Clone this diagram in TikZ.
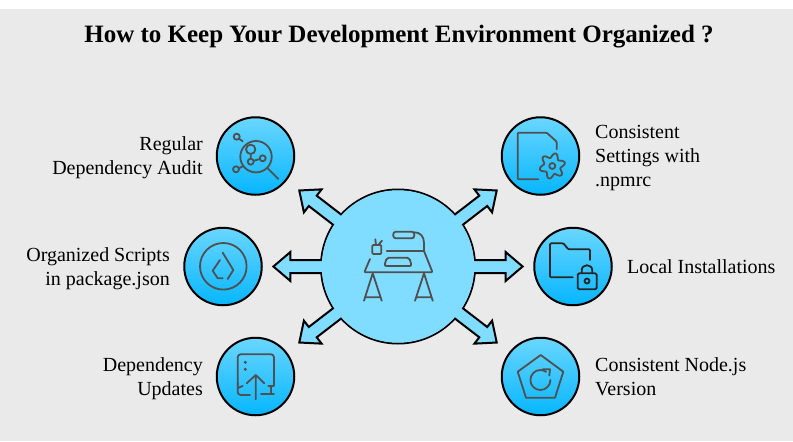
\documentclass[tikz,border=0pt]{standalone}
\usepackage{fontspec}
\setmainfont{Liberation Serif}
\usetikzlibrary{calc,positioning}

\definecolor{panelgray}{HTML}{EAEAEA}
\definecolor{hubblue}{HTML}{80DDFF}
\definecolor{topblue}{HTML}{6AD6FF}
\definecolor{lowblue}{HTML}{06B6FF}
\definecolor{icongray}{HTML}{505050}

\tikzset{
  hubfill/.style={circle, fill=hubblue, inner sep=0pt, minimum size=154pt},
  topicdisc/.style={circle, draw=black, line width=2pt, top color=topblue, bottom color=lowblue, inner sep=0pt, minimum size=77.5pt},
  blockarrow/.style={draw=black, line width=2pt, fill=hubblue, line join=miter},
  icon/.style={draw=icongray, line width=1.8pt, line cap=round, line join=round},
  leftlabel/.style={align=right, anchor=east, inner sep=0pt, font=\fontsize{20}{24}\selectfont},
  rightlabel/.style={align=left, anchor=west, inner sep=0pt, font=\fontsize{20}{24}\selectfont}
}

\begin{document}
\begin{tikzpicture}[x=1pt, y=-1pt]
  \useasboundingbox (0,0) rectangle (793,442);
  \fill[panelgray] (0,9) rectangle (793,441);

  \node[font=\fontsize{25}{28}\bfseries\selectfont] (title) at (399,37) {How to Keep Your Development Environment Organized ?};

  % Hub with its six arrows
  \node[hubfill, draw=black, line width=2pt] (hub) at (398,266.5) {};
  \foreach \ang in {0,180,37.6,-37.6,142.4,-142.4} {
    \begin{scope}[shift={(hub)}, rotate=\ang]
      \draw[blockarrow] (60,-6.5) -- (107.6,-6.5) -- (107.6,-14.5) -- (124.6,0)
        -- (107.6,14.5) -- (107.6,6.5) -- (60,6.5) -- cycle;
    \end{scope}
  }
  \node[hubfill, minimum size=152.5pt] (hubtop) at (hub) {};

  % Topic discs
  \node[topicdisc] (audit) at (255.5,156) {};
  \node[topicdisc] (scripts) at (223,266.5) {};
  \node[topicdisc] (updates) at (255.5,376.5) {};
  \node[topicdisc] (settings) at (540.5,156) {};
  \node[topicdisc] (local) at (573,266.5) {};
  \node[topicdisc] (version) at (540.5,376.5) {};

  % Labels
  \node[leftlabel] (auditlabel) at (203,158) {Regular\\Dependency Audit};
  \node[leftlabel] (scriptslabel) at (170,269) {Organized Scripts\\in package.json};
  \node[leftlabel] (updateslabel) at (203,379) {Dependency\\Updates};
  \node[rightlabel] (settingslabel) at (595,158) {Consistent\\Settings with\\.npmrc};
  \node[rightlabel] (locallabel) at (627,267) {Local Installations};
  \node[rightlabel] (versionlabel) at (595,377) {Consistent Node.js\\Version};

  % Desk icon
  \draw[icon, rounded corners=2.5pt] (393.3,231.7) rectangle (414.3,238.3);
  \draw[icon] (386.7,251) -- (424,251) -- (424,243) .. controls (424,236) and (420,232.3) .. (414.3,232.3);
  \draw[icon, rounded corners=1pt] (370,259) -- (364.3,272.3) -- (432.5,272.3) -- (424,251);
  \draw[icon, rounded corners=2pt] (386.7,257.7) -- (409.3,257.7) -- (411.7,266) -- (384.3,266) -- cycle;
  \draw[icon] (364,300.7) -- (372.7,273.3) -- (381.7,300.7) (365.5,297.3) -- (380.5,297.3);
  \draw[icon] (415,300.7) -- (424,273.3) -- (432.7,300.7) (416.5,297.3) -- (431.5,297.3);
  \draw[icon, rounded corners=1pt] (372.3,245) rectangle (381.3,254);
  \draw[icon] (375.3,239.3) -- (376,245) (382,240.7) -- (378.3,245);

  % Audit icon
  \draw[icon] (256,156.7) circle (15.7pt) (267.7,168.3) -- (278.3,179);
  \draw[icon] (250.7,149.3) circle (4.7pt) (250.7,161.7) circle (3pt) (262.7,158.3) circle (3pt);
  \draw[icon] (250.7,154) -- (250.7,158.7) (253.6,160.8) -- (259.8,159);
  \draw[icon] (236.7,136.7) circle (3pt) (239.3,139) -- (242.7,141.3);
  \draw[icon] (236,169.3) circle (3pt) (239,168.3) -- (243.3,166);

  % Scripts icon
  \draw[icon] (223.3,266.3) circle (23.3pt);
  \draw[icon] (222.7,252.7) -- (233.3,270) -- (227.7,279);
  \draw[icon] (220,260) -- (212.7,270.7) -- (217.7,278.3) -- (222.7,278.3);

  % Updates icon
  \draw[icon, rounded corners=3pt] (237.7,385) -- (237.7,354.3) -- (274,354.3) -- (274,385);
  \draw[icon, rounded corners=3pt] (237.7,383) -- (237.7,395) -- (250,395);
  \draw[icon] (237.7,388) -- (242.7,386);
  \draw[icon] (268.3,385.7) -- (274,385.7) (271,385.7) -- (271,394.3) (261,394.3) -- (274,394.3);
  \draw[icon] (255.7,375) -- (255.7,399.3) (246.7,383.3) -- (255.7,375) -- (264.3,383.3);
  \fill[icongray] (245.3,362.3) circle (1.7pt) (245.3,369.3) circle (1.7pt);

  % Settings icon
  \draw[icon, rounded corners=1pt] (538.3,179.3) -- (517.7,179.3) -- (517.7,132.7) -- (546.7,132.7) -- (556.7,141.7) -- (556.7,149.3);
  \draw[icon] plot[smooth cycle, samples=49, domain=0:352.5] ({552.3+(10.6+2.4*cos(6*\x+90))*cos(\x)}, {166+(10.6+2.4*cos(6*\x+90))*sin(\x)});
  \draw[icon] (552.3,166) circle (3pt);

  % Local icon
  \draw[icon, draw=black!85, rounded corners=1pt] (572.7,277.3) -- (550,277.3) -- (550,243.3) -- (563.3,243.3) -- (568.3,249.3) -- (590,249.3) -- (590,260);
  \draw[icon, draw=black!85, rounded corners=1.5pt] (577.7,273.3) rectangle (596.7,289.3);
  \draw[icon, draw=black!85] (581.7,273.3) -- (581.7,270.5) .. controls (581.7,263.5) and (592.3,263.5) .. (592.3,270.5) -- (592.3,273.3);
  \draw[icon, draw=black!85] (587,281) circle (2.5pt);

  % Version icon
  \draw[icon] (540.7,355) -- (563.3,371.7) -- (555,397.7) -- (526,397.7) -- (517.7,371.7) -- cycle;
  \draw[icon] (550.4,380) arc (0:305:10);
  \draw[icon] (542.7,369.3) -- (550,369.3) -- (549.3,375.5);
\end{tikzpicture}
\end{document}
